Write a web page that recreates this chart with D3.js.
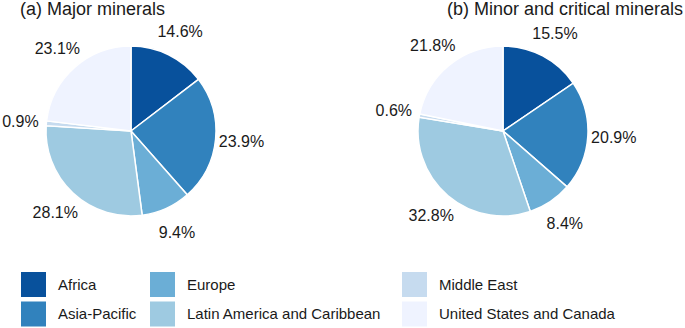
<!DOCTYPE html>
<html lang="en">
<head>
	<meta charset="utf-8">
	<title>minerals pies</title>
	<script src="https://d3js.org/d3.v7.min.js"></script>
	<style type="text/css">
		body { margin: 0; background: #fff; }
		svg text { font-family: "Liberation Sans", Arial, sans-serif; fill: #1a1a1a; }
	</style>
</head>
<body>
	<svg id="chart-svg"></svg>

	<script type="text/javascript">
		// data -------------------
		let regions = ['Africa', 'Asia-Pacific', 'Europe', 'Latin America and Caribbean', 'Middle East', 'United States and Canada']
		let colors = ['#08519c', '#3182bd', '#6baed6', '#9ecae1', '#c6dbef', '#eff3ff']
		let majorShares = [14.6, 23.9, 9.4, 28.1, 0.9, 23.1]
		let minorShares = [15.5, 20.9, 8.4, 32.8, 0.6, 21.8]
		let titles = ['(a) Major minerals', '(b) Minor and critical minerals']

		// legend order (3 columns, 2 rows)
		let legendOrder = ['Africa', 'Asia-Pacific', 'Europe', 'Latin America and Caribbean', 'Middle East', 'United States and Canada']

		let w = 685
		let h = 328
		let r = 85

		let svg = d3.select('#chart-svg')
			.attr('width', w)
			.attr('height', h)

		let cScale = d3.scaleOrdinal().domain(regions).range(colors)

		function drawPie(values, cx, cy) {
			let rows = regions.map((name, i) => ({ name: name, value: values[i] }))
			let pie = d3.pie().sort(null).value(d => d.value)
			let arcs = pie(rows)
			let arc = d3.arc().innerRadius(0).outerRadius(r)
			let labelArc = d3.arc().innerRadius(111).outerRadius(111)

			let g = svg.append('g').attr('transform', 'translate(' + cx + ',' + cy + ')')

			g.selectAll('path')
				.data(arcs)
				.enter()
				.append('path')
				.attr('d', arc)
				.attr('fill', d => cScale(d.data.name))
				.attr('stroke', '#fff')
				.attr('stroke-width', 1.5)

			g.selectAll('text')
				.data(arcs)
				.enter()
				.append('text')
				.attr('transform', d => 'translate(' + labelArc.centroid(d) + ')')
				.attr('text-anchor', 'middle')
				.attr('dy', '0.35em')
				.style('font-size', '16px')
				.text(d => d.data.value.toFixed(1) + '%')
		}

		drawPie(majorShares, 131, 131)
		drawPie(minorShares, 503, 131)

		svg.append('text')
			.attr('x', 20)
			.attr('y', 15)
			.style('font-size', '18px')
			.text(titles[0])

		svg.append('text')
			.attr('x', 683)
			.attr('y', 15)
			.attr('text-anchor', 'end')
			.style('font-size', '18px')
			.text(titles[1])

		// legend
		let colX = [21, 150, 402]
		let rowY = [272, 301.5]
		let leg = svg.append('g')
			.selectAll('g')
			.data(legendOrder)
			.enter()
			.append('g')
			.attr('transform', (d, i) => 'translate(' + colX[Math.floor(i / 2)] + ',' + rowY[i % 2] + ')')

		leg.append('rect')
			.attr('width', 25)
			.attr('height', 25)
			.attr('fill', d => cScale(d))

		leg.append('text')
			.attr('x', 37)
			.attr('y', 12.5)
			.attr('dy', '0.35em')
			.style('font-size', '15px')
			.text(d => d)
	</script>
</body>
</html>
